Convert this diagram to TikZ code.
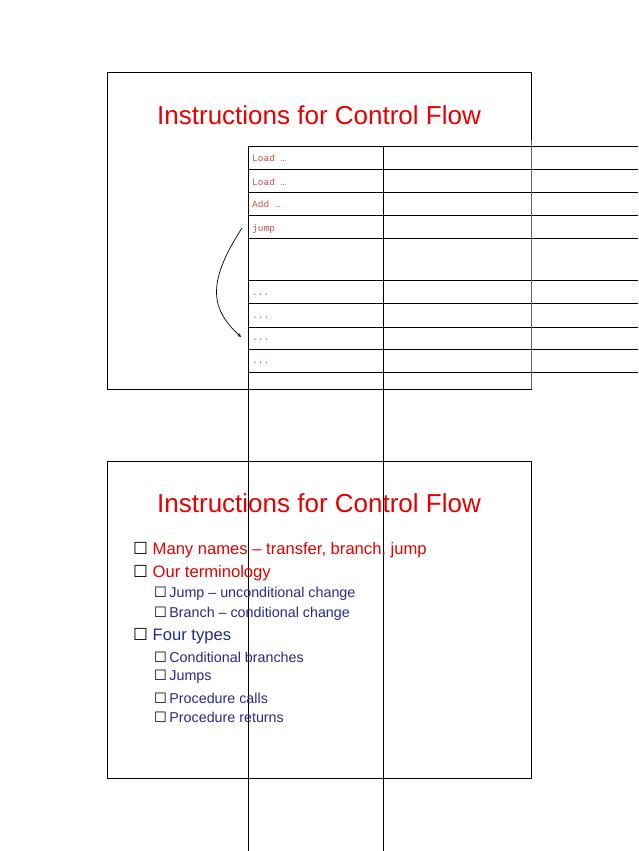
\documentclass[tikz,border=0pt]{standalone}
\usepackage{fontspec}
\setmainfont{Liberation Sans}
\newfontfamily\cour{Liberation Mono}
\newfontfamily\djvfont{DejaVu Sans}
\definecolor{tred}{RGB}{230,0,0}
\definecolor{cred}{RGB}{205,80,80}
\definecolor{navy}{RGB}{40,40,140}
\tikzset{frame/.style={draw=black,line width=0.8pt},
 title/.style={anchor=west,text=tred,font=\fontsize{26}{28}\selectfont,inner sep=0},
 code/.style={anchor=west,text=cred,font=\cour\fontsize{9.5}{10}\selectfont,inner sep=0},
 lone/.style={anchor=west,font=\fontsize{16.6}{18}\selectfont,inner sep=0},
 ltwo/.style={anchor=west,text=navy,font=\fontsize{14.3}{16}\selectfont,inner sep=0},
 grid/.style={draw=black,line width=0.9pt}}
\newcommand{\bx}{{\djvfont\color{black}☐}}
\begin{document}
\begin{tikzpicture}[x=1pt,y=-1pt]
\useasboundingbox (0,0) rectangle (638,851);
\draw[frame] (107,72) rectangle (531,389);
\draw[frame] (107,461) rectangle (531,778);
\node[title] (t1) at (157,115) {Instructions for Control Flow};
\node[title] (t2) at (157,503) {Instructions for Control Flow};
% table
\foreach \y in {146,169,192,215,238,280,303,327,349,372}
  \draw[grid] (248,\y) -- (638,\y);
\draw[grid] (248,146) -- (248,851);
\draw[grid] (383,146) -- (383,851);
\draw[grid,gray!80!black] (531,140) -- (531,389);
\node[code] (c1) at (252,158) {Load …};
\node[code] (c2) at (252,182) {Load …};
\node[code] (c3) at (252,204) {Add …};
\node[code] (c4) at (252,229) {jump};
\node[code] (d1) at (252,295) {...};
\node[code] (d2) at (252,318) {...};
\node[code] (d3) at (252,340) {...};
\node[code] (d4) at (252,363) {...};
\coordinate (s) at (242,228);
\coordinate (e) at (241,337);
\draw[-stealth,line width=0.7pt] (s) .. controls (205,285) and (212,310) .. (e);
% bullets
\node[lone,text=tred] (b1) at (133,550) {\bx\ Many names – transfer, branch, jump};
\node[lone,text=tred] (b2) at (133,573) {\bx\ Our terminology};
\node[ltwo] (b21) at (154,594) {\bx\,Jump – unconditional change};
\node[ltwo] (b22) at (154,614) {\bx\,Branch – conditional change};
\node[lone,text=navy] (b3) at (133,636) {\bx\ Four types};
\node[ltwo] (b31) at (154,657) {\bx\,Conditional branches};
\node[ltwo] (b32) at (154,677) {\bx\,Jumps};
\node[ltwo] (b33) at (154,698) {\bx\,Procedure calls};
\node[ltwo] (b34) at (154,717) {\bx\,Procedure returns};
\end{tikzpicture}
\end{document}
